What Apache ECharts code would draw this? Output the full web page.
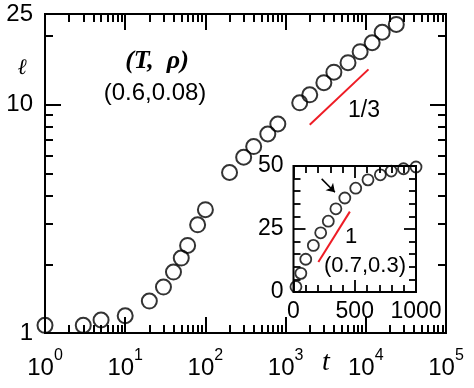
<!DOCTYPE html>
<html>
<head>
<meta charset="utf-8">
<script src="https://cdn.jsdelivr.net/npm/echarts@6/dist/echarts.min.js"></script>
<style>
html,body{margin:0;padding:0;background:#fff;}
#c{width:474px;height:388px;}
</style>
</head>
<body>
<div id="c"></div>
<script>
// ---- main plot data (log-log) ----
const mainT = [1, 3, 5, 10, 20, 30, 40, 50, 60, 80, 100, 200, 300, 400, 600, 800, 1500, 2000, 3000, 4000, 6000, 8500, 12000, 16000, 24000];
const mainL = [1.08, 1.08, 1.14, 1.19, 1.38, 1.59, 1.85, 2.13, 2.42, 2.98, 3.47, 5.05, 5.89, 6.56, 7.45, 8.24, 10.2, 11.06, 12.5, 13.9, 15.3, 17.1, 18.7, 20.8, 22.5];
const slopeT = [2000, 10800];
const slopeL = [8.18, 14.3];
const xTickExp = ['0', '1', '2', '3', '4', '5'];
const yTickLabels = ['1', '10', '25'];

// ---- inset data (linear) ----
const insetT = [20, 60, 100, 162, 222, 284, 346, 419, 508, 608, 709, 798, 898, 1000];
const insetL = [2.1, 7.4, 13.0, 18.5, 23.5, 28.1, 33.0, 37.3, 41.2, 44.5, 46.5, 48.0, 48.9, 49.6];
const insetSlopeT = [203, 460];
const insetSlopeL = [11.9, 31.9];
const arrowT = [230, 338];
const arrowL = [44.9, 39.6];
const insetXTicks = ['0', '500', '1000'];
const insetYTicks = ['0', '25', '50'];

const FONT = 'Liberation Sans';
const black = '#000';
const red = '#ee1c25';

// minor tick values of the log axes (decoration only)
const xMinorVals = [];
for (let d = 0; d < 5; d++) for (let k = 2; k <= 9; k++) xMinorVals.push(k * Math.pow(10, d));
const yMinorVals = [2, 3, 4, 5, 6, 7, 8, 9, 20];

function majorLogX(pos, showLabel) {
  return {
    type: 'log', logBase: 10, gridIndex: 0, position: pos, min: 1, max: 100000,
    axisLine: {show: false, onZero: false},
    axisTick: {show: true, inside: true, length: 16, lineStyle: {color: black, width: 2}},
    splitLine: {show: false},
    axisLabel: showLabel ? {
      show: true, margin: 22,
      formatter: (v, i) => '{b|10}{e|' + xTickExp[i] + '}',
      rich: {
        b: {fontSize: 24, fontFamily: FONT, color: black, lineHeight: 26},
        e: {fontSize: 16, fontFamily: FONT, color: black, lineHeight: 16, padding: [0, 0, 24, 0]}
      }
    } : {show: false}
  };
}
function minorLogX(pos) {
  return {
    type: 'log', logBase: 10, gridIndex: 0, position: pos, min: 1, max: 100000,
    axisLine: {show: false, onZero: false},
    axisTick: {show: true, inside: true, length: 8, customValues: xMinorVals, lineStyle: {color: black, width: 2}},
    axisLabel: {show: false}, splitLine: {show: false}
  };
}
function majorLogY(pos, showLabel) {
  return {
    type: 'log', logBase: 10, gridIndex: 0, position: pos, min: 1, max: 25, interval: 1,
    axisLine: {show: false, onZero: false},
    axisTick: {show: true, inside: true, length: 16, lineStyle: {color: black, width: 2}},
    splitLine: {show: false},
    axisLabel: showLabel ? {
      show: true, margin: 12, fontSize: 24, fontFamily: FONT, color: black,
      formatter: (v, i) => yTickLabels[i]
    } : {show: false}
  };
}
function minorLogY(pos) {
  return {
    type: 'log', logBase: 10, gridIndex: 0, position: pos, min: 1, max: 25,
    axisLine: {show: false, onZero: false},
    axisTick: {show: true, inside: true, length: 8, customValues: yMinorVals, lineStyle: {color: black, width: 2}},
    axisLabel: {show: false}, splitLine: {show: false}
  };
}
function insetX(pos, showLabel) {
  return {
    type: 'value', gridIndex: 1, position: pos, min: 0, max: 1000, interval: 500,
    axisLine: {show: false, onZero: false},
    axisTick: {show: true, inside: true, length: 12, lineStyle: {color: black, width: 1.8}},
    minorTick: {show: true, splitNumber: 5, length: 7, lineStyle: {color: black, width: 1.8}},
    splitLine: {show: false},
    axisLabel: showLabel ? {show: true, margin: 8, fontSize: 23, fontFamily: FONT, color: black,
      formatter: (v, i) => insetXTicks[i]} : {show: false}
  };
}
function insetY(pos, showLabel) {
  return {
    type: 'value', gridIndex: 1, position: pos, min: 0, max: 50, interval: 25,
    axisLine: {show: false, onZero: false},
    axisTick: {show: true, inside: true, length: 12, lineStyle: {color: black, width: 1.8}},
    minorTick: {show: true, splitNumber: 5, length: 7, lineStyle: {color: black, width: 1.8}},
    splitLine: {show: false},
    axisLabel: showLabel ? {show: true, margin: 10, fontSize: 23, fontFamily: FONT, color: black,
      formatter: (v, i) => insetYTicks[i]} : {show: false}
  };
}

const chart = echarts.init(document.getElementById('c'), null, {renderer: 'canvas'});
chart.setOption({
  animation: false,
  backgroundColor: '#fff',
  grid: [
    {left: 45, top: 14, width: 401, height: 319, show: true, borderColor: black, borderWidth: 2, backgroundColor: 'transparent'},
    {left: 293.5, top: 166, width: 122.5, height: 126, show: true, borderColor: black, borderWidth: 2, backgroundColor: '#fff'}
  ],
  xAxis: [majorLogX('bottom', true), majorLogX('top', false), minorLogX('bottom'), minorLogX('top'),
          insetX('bottom', true), insetX('top', false)],
  yAxis: [majorLogY('left', true), majorLogY('right', false), minorLogY('left'), minorLogY('right'),
          insetY('left', true), insetY('right', false)],
  series: [
    {
      type: 'scatter', xAxisIndex: 0, yAxisIndex: 0,
      data: mainT.map((t, i) => [t, mainL[i]]),
      symbol: 'circle', symbolSize: 15,
      itemStyle: {color: 'rgba(0,0,0,0)', borderColor: black, borderWidth: 2}, z: 5
    },
    {
      type: 'line', xAxisIndex: 0, yAxisIndex: 0,
      data: slopeT.map((t, i) => [t, slopeL[i]]),
      showSymbol: false, symbol: 'none', lineStyle: {color: red, width: 2}
    },
    {
      type: 'scatter', xAxisIndex: 4, yAxisIndex: 4,
      data: insetT.map((t, i) => [t, insetL[i]]),
      symbol: 'circle', symbolSize: 11,
      itemStyle: {color: 'rgba(0,0,0,0)', borderColor: black, borderWidth: 1.8}, z: 5
    },
    {
      type: 'line', xAxisIndex: 4, yAxisIndex: 4,
      data: insetSlopeT.map((t, i) => [t, insetSlopeL[i]]),
      showSymbol: false, symbol: 'none', lineStyle: {color: red, width: 2}
    },
    {
      type: 'lines', coordinateSystem: 'cartesian2d', xAxisIndex: 4, yAxisIndex: 4,
      data: [{coords: arrowT.map((t, i) => [t, arrowL[i]])}],
      symbol: ['none', 'arrow'], symbolSize: 8,
      lineStyle: {color: black, width: 1.5, opacity: 1}
    }
  ],
  graphic: [
    {type: 'text', x: 157, y: 61, style: {text: '(T,  ρ)', font: 'italic bold 26px "Liberation Serif"', fill: black, align: 'center', verticalAlign: 'middle'}},
    {type: 'text', x: 155, y: 93, style: {text: '(0.6,0.08)', font: '24px "Liberation Sans"', fill: black, align: 'center', verticalAlign: 'middle'}},
    {type: 'text', x: 22, y: 68, style: {text: 'ℓ', font: 'italic 22px "DejaVu Serif"', fill: black, align: 'center', verticalAlign: 'middle'}},
    {type: 'text', x: 326, y: 363, style: {text: 't', font: 'italic 28px "Liberation Serif"', fill: black, align: 'center', verticalAlign: 'middle'}},
    {type: 'text', x: 364, y: 111, style: {text: '1/3', font: '23px "Liberation Sans"', fill: black, align: 'center', verticalAlign: 'middle'}},
    {type: 'text', x: 351, y: 237, style: {text: '1', font: '22px "Liberation Sans"', fill: black, align: 'center', verticalAlign: 'middle'}, z: 10},
    {type: 'text', x: 365, y: 266, style: {text: '(0.7,0.3)', font: '22px "Liberation Sans"', fill: black, align: 'center', verticalAlign: 'middle'}, z: 10}
  ]
});
</script>
</body>
</html>
